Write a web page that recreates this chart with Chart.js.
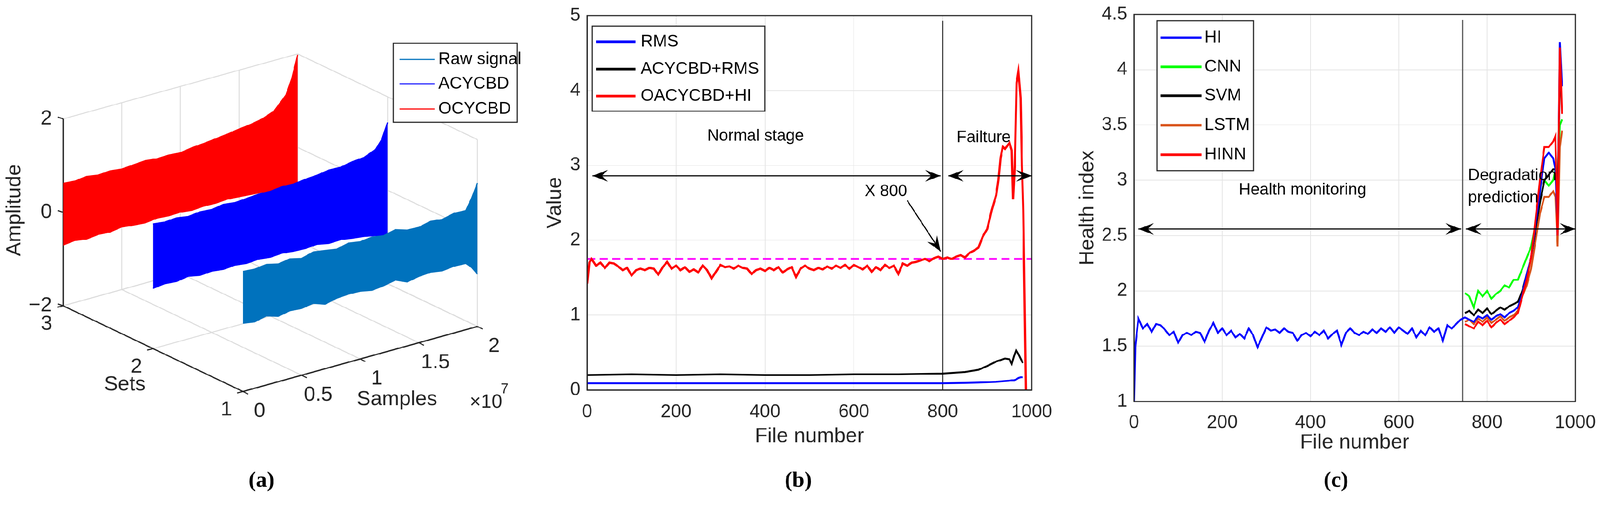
<!DOCTYPE html>
<html><head><meta charset="utf-8">
<script src="https://cdn.jsdelivr.net/npm/chart.js@4"></script>
<style>
html,body{margin:0;padding:0;background:#fff;overflow:hidden}
#wrap{position:absolute;left:0;top:0;width:4333px;height:1354px;transform-origin:0 0}
canvas{position:absolute;top:0}
</style></head><body>
<div id="wrap">
<canvas id="ca" width="1440" height="1354" style="left:0"></canvas>
<canvas id="cb" width="1450" height="1354" style="left:1400px"></canvas>
<canvas id="cc" width="1483" height="1354" style="left:2850px"></canvas>
</div>
<script>
// ---------------- DATA ----------------
// Panel (a): envelopes of the signals (amplitude) at sample positions (x1e7)
const sAxis = [0,0.1,0.2,0.3,0.4,0.5,0.6,0.7,0.8,0.9,1.0,1.1,1.2,1.3,1.4,1.5,1.6,1.7,1.8,1.9,1.95,2.0];
const rawUpper = [0.57,0.55,0.58,0.52,0.56,0.50,0.57,0.53,0.49,0.55,0.51,0.54,0.50,0.56,0.48,0.47,0.53,0.50,0.56,0.55,0.78,1.07];
const rawLower = [-0.54,-0.58,-0.52,-0.60,-0.55,-0.57,-0.53,-0.62,-0.56,-0.54,-0.55,-0.60,-0.57,-0.52,-0.63,-0.58,-0.56,-0.60,-0.57,-0.58,-0.70,-0.88];
const acyUpper = [0.67,0.64,0.66,0.62,0.65,0.63,0.67,0.64,0.66,0.68,0.67,0.70,0.69,0.72,0.74,0.78,0.77,0.82,0.84,0.95,1.12,1.45];
const acyLower = [-0.71,-0.68,-0.70,-0.66,-0.71,-0.69,-0.72,-0.70,-0.73,-0.71,-0.74,-0.72,-0.75,-0.76,-0.74,-0.79,-0.78,-0.82,-0.85,-0.90,-0.95,-1.00];
const ocyUpper = [0.62,0.60,0.63,0.59,0.61,0.58,0.60,0.62,0.59,0.60,0.58,0.62,0.64,0.67,0.70,0.74,0.77,0.82,0.92,1.19,1.51,1.98];
const ocyLower = [-0.70,-0.67,-0.71,-0.68,-0.70,-0.66,-0.69,-0.71,-0.68,-0.70,-0.69,-0.72,-0.70,-0.71,-0.69,-0.71,-0.73,-0.75,-0.78,-0.83,-0.84,-0.85];
const aSeriesNames = ["Raw signal","ACYCBD","OCYCBD"];
const aSets = [1,2,3];
const aSampleTicks = [0,0.5,1,1.5,2];
const aSampleTickLabels = ["0","0.5","1","1.5","2"];
const aSetTicks = [1,2,3];
const aAmpTicks = [-2,0,2];
const aAmpTickLabels = ["\u22122","0","2"];

// Panel (b)
const fileB = [0,5,10,20,30,40,50,60,70,80,90,100,110,120,130,140,150,160,170,180,190,200,210,220,230,240,250,260,270,280,290,300,310,320,330,340,350,360,370,380,390,400,410,420,430,440,450,460,470,480,490,500,510,520,530,540,550,560,570,580,590,600,610,620,630,640,650,660,670,680,690,700,710,720,730,740,750,760,770,780,790,800,810,820,830,840,850,860,870,880,890,900,910,920,925,930,935,940,945,950,955,958,962,966,970,975,978,981,984,987];
const hiB = [1.42,1.70,1.75,1.66,1.70,1.63,1.70,1.69,1.65,1.60,1.63,1.53,1.60,1.62,1.60,1.63,1.62,1.54,1.64,1.71,1.62,1.66,1.60,1.64,1.58,1.61,1.57,1.66,1.60,1.49,1.58,1.67,1.64,1.65,1.62,1.66,1.63,1.62,1.55,1.60,1.62,1.59,1.63,1.60,1.64,1.57,1.61,1.64,1.51,1.62,1.66,1.62,1.60,1.63,1.61,1.65,1.62,1.66,1.63,1.67,1.62,1.67,1.64,1.61,1.66,1.58,1.64,1.60,1.67,1.63,1.66,1.55,1.69,1.66,1.70,1.71,1.73,1.75,1.72,1.76,1.78,1.75,1.77,1.75,1.78,1.80,1.77,1.83,1.86,1.90,2.05,2.15,2.40,2.60,2.80,3.10,3.25,3.22,3.26,3.30,3.20,2.55,3.00,4.10,4.25,3.90,3.00,2.40,1.20,0.00];
const fileRms = [0,100,200,300,400,500,600,700,800,850,880,900,920,940,950,955,960,965,970,975,980];
const acyRms = [0.20,0.21,0.20,0.21,0.20,0.20,0.21,0.21,0.22,0.24,0.27,0.32,0.38,0.42,0.41,0.35,0.45,0.53,0.48,0.42,0.36];
const rms = [0.09,0.09,0.09,0.09,0.09,0.09,0.09,0.09,0.09,0.095,0.10,0.105,0.11,0.12,0.125,0.13,0.13,0.14,0.16,0.17,0.17];
const thresholdB = 1.75;
const splitB = 800;
const bLabels = ["RMS","ACYCBD+RMS","OACYCBD+HI"];

// Panel (c)
const fileHI = [0,3,10,20,30,40,50,60,70,80,90,100,110,120,130,140,150,160,170,180,190,200,210,220,230,240,250,260,270,280,290,300,310,320,330,340,350,360,370,380,390,400,410,420,430,440,450,460,470,480,490,500,510,520,530,540,550,560,570,580,590,600,610,620,630,640,650,660,670,680,690,700,710,720,730,740,750,760,770,780,790,800,810,820,830,840,850,860,870,880,890,900,910,920,930,940,950,955,960,965,970];
const hiC = [1.00,1.50,1.75,1.66,1.70,1.63,1.70,1.69,1.65,1.60,1.63,1.53,1.60,1.62,1.60,1.63,1.62,1.54,1.64,1.71,1.62,1.66,1.60,1.64,1.58,1.61,1.57,1.66,1.60,1.49,1.58,1.67,1.64,1.65,1.62,1.66,1.63,1.62,1.55,1.60,1.62,1.59,1.63,1.60,1.64,1.57,1.61,1.64,1.51,1.62,1.66,1.62,1.60,1.63,1.61,1.65,1.62,1.66,1.63,1.67,1.62,1.67,1.64,1.61,1.66,1.58,1.64,1.60,1.67,1.63,1.66,1.55,1.69,1.66,1.70,1.74,1.76,1.74,1.72,1.77,1.75,1.78,1.74,1.77,1.79,1.76,1.80,1.82,1.85,1.97,2.15,2.30,2.60,2.90,3.20,3.25,3.20,3.10,2.50,4.25,3.85];
const filePred = [750,760,770,780,790,800,810,820,830,840,850,860,870,880,890,900,910,920,930,940,950,955,960,965,970];
const cnn  = [1.98,1.95,1.85,2.00,1.95,2.00,1.93,1.97,2.00,2.05,2.03,2.10,2.10,2.20,2.30,2.40,2.60,2.80,3.00,2.95,3.00,3.10,3.05,3.50,3.55];
const svm  = [1.80,1.82,1.78,1.83,1.80,1.84,1.79,1.82,1.85,1.83,1.86,1.88,1.90,2.00,2.15,2.30,2.55,2.80,3.00,3.05,3.10,3.10,2.90,3.90,3.85];
const lstm = [1.72,1.74,1.70,1.75,1.72,1.76,1.71,1.74,1.77,1.73,1.76,1.78,1.82,1.95,2.05,2.20,2.45,2.70,2.85,2.85,2.90,2.85,2.40,3.30,3.45];
const hinn = [1.70,1.68,1.66,1.72,1.69,1.73,1.67,1.71,1.74,1.70,1.73,1.76,1.80,1.95,2.10,2.30,2.65,3.00,3.30,3.30,3.35,3.40,2.50,4.20,3.60];
const splitC = 745;
const cLabels = ["HI","CNN","SVM","LSTM","HINN"];

// ---------------- HELPERS ----------------
(function fit(){ const s = Math.min(1, window.innerWidth / 4333); document.getElementById('wrap').style.transform = 'scale(' + s + ')'; })();
const TXT = '#262626';
const FONT = '"Liberation Sans", Arial, sans-serif';
Chart.defaults.font.family = FONT;
Chart.defaults.color = TXT;
const zip = (xs, ys) => xs.map((x, i) => ({x, y: ys[i]}));

function arrow(ctx, x1, y1, x2, y2, both) {
  ctx.save();
  ctx.strokeStyle = '#000'; ctx.fillStyle = '#000'; ctx.lineWidth = 3;
  ctx.beginPath(); ctx.moveTo(x1, y1); ctx.lineTo(x2, y2); ctx.stroke();
  const head = (tx, ty, fx, fy) => {
    const a = Math.atan2(ty - fy, tx - fx), L = 42, Wd = 16;
    const bx = tx - L * Math.cos(a), by = ty - L * Math.sin(a);
    const nx = tx - L * 0.6 * Math.cos(a), ny = ty - L * 0.6 * Math.sin(a);
    ctx.beginPath();
    ctx.moveTo(tx, ty);
    ctx.lineTo(bx + Wd * Math.sin(a), by - Wd * Math.cos(a));
    ctx.lineTo(nx, ny);
    ctx.lineTo(bx - Wd * Math.sin(a), by + Wd * Math.cos(a));
    ctx.closePath(); ctx.fill();
  };
  head(x2, y2, x1, y1);
  if (both) head(x1, y1, x2, y2);
  ctx.restore();
}

function drawLegend(ctx, box, items, lineFrom, lineTo, textX, ys, fontSize, lw) {
  ctx.save();
  ctx.fillStyle = '#fff';
  ctx.fillRect(box[0], box[1], box[2] - box[0], box[3] - box[1]);
  ctx.strokeStyle = TXT; ctx.lineWidth = 3;
  ctx.strokeRect(box[0], box[1], box[2] - box[0], box[3] - box[1]);
  ctx.font = fontSize + 'px ' + FONT; ctx.textBaseline = 'middle'; ctx.textAlign = 'left';
  items.forEach((it, i) => {
    ctx.strokeStyle = it.color; ctx.lineWidth = lw;
    ctx.beginPath(); ctx.moveTo(lineFrom, ys[i]); ctx.lineTo(lineTo, ys[i]); ctx.stroke();
    ctx.fillStyle = '#000'; ctx.fillText(it.label, textX, ys[i]);
  });
  ctx.restore();
}

function caption(ctx, x, y, letter) {
  ctx.save();
  ctx.font = 'bold 60px "Liberation Serif", serif';
  ctx.fillStyle = '#000'; ctx.textAlign = 'center'; ctx.textBaseline = 'middle';
  ctx.fillText('(' + letter + ')', x, y);
  ctx.restore();
}

// ---------------- PANEL (a) ----------------
function proj(s, set, z) {
  return { x: 658 + 317.5 * s - 243.5 * (set - 1), y: 807 - 88 * s - 116 * (set - 1) - 126.5 * z };
}
function band(upper, lower, set) {
  return [sAxis.map((s, i) => proj(s, set, upper[i])), sAxis.map((s, i) => proj(s, set, lower[i]))];
}
const aColors = ['#0072BD', '#0000FF', '#FF0000'];
const aBands = [band(rawUpper, rawLower, aSets[0]), band(acyUpper, acyLower, aSets[1]), band(ocyUpper, ocyLower, aSets[2])];
const aDatasets = [];
aBands.forEach((b, k) => {
  aDatasets.push({label: aSeriesNames[k], data: b[0], borderColor: aColors[k], backgroundColor: aColors[k], borderWidth: 3, pointRadius: 0, fill: '+1', order: k + 1, tension: 0});
  aDatasets.push({label: aSeriesNames[k] + ' low', data: b[1], borderColor: aColors[k], backgroundColor: aColors[k], borderWidth: 3, pointRadius: 0, fill: false, order: k + 1, tension: 0});
});

const box3d = {
  id: 'box3d',
  beforeDatasetsDraw(chart) {
    const ctx = chart.ctx, xs = chart.scales.x, ys = chart.scales.y;
    const P = (s, set, z) => { const p = proj(s, set, z); return [xs.getPixelForValue(p.x), ys.getPixelForValue(p.y)]; };
    const seg = (a, b) => { ctx.beginPath(); ctx.moveTo(a[0], a[1]); ctx.lineTo(b[0], b[1]); ctx.stroke(); };
    ctx.save();
    ctx.strokeStyle = '#dcdcdc'; ctx.lineWidth = 2.5;
    aSampleTicks.forEach(s => { seg(P(s, 3, -2), P(s, 3, 2)); seg(P(s, 1, -2), P(s, 3, -2)); });
    aAmpTicks.forEach(z => { seg(P(0, 3, z), P(2, 3, z)); seg(P(2, 1, z), P(2, 3, z)); });
    aSetTicks.forEach(st => { seg(P(2, st, -2), P(2, st, 2)); seg(P(0, st, -2), P(2, st, -2)); });
    ctx.strokeStyle = TXT; ctx.lineWidth = 3.5;
    seg(P(0, 3, -2), P(0, 3, 2));
    seg(P(0, 3, -2), P(0, 1, -2));
    seg(P(0, 1, -2), P(2, 1, -2));
    ctx.lineWidth = 3;
    aAmpTicks.forEach(z => { const p = P(0, 3, z); seg(p, [p[0] - 14, p[1] - 5]); });
    aSetTicks.forEach(st => { const p = P(0, st, -2); seg(p, [p[0] - 16, p[1] + 4]); });
    aSampleTicks.forEach(s => { const p = P(s, 1, -2); seg(p, [p[0] + 14, p[1] + 7]); });
    ctx.restore();
  },
  afterDraw(chart) {
    const ctx = chart.ctx, xs = chart.scales.x, ys = chart.scales.y;
    const P = (s, set, z) => { const p = proj(s, set, z); return [xs.getPixelForValue(p.x), ys.getPixelForValue(p.y)]; };
    ctx.save();
    ctx.fillStyle = TXT; ctx.font = '56px ' + FONT; ctx.textBaseline = 'middle';
    ctx.textAlign = 'right';
    aAmpTicks.forEach((z, i) => { const p = P(0, 3, z); ctx.fillText(aAmpTickLabels[i], p[0] - 30, p[1]); });
    ctx.textAlign = 'center';
    aSetTicks.forEach(st => { const p = P(0, st, -2); ctx.fillText(String(st), p[0] - 45, p[1] + 50); });
    aSampleTicks.forEach((s, i) => { const p = P(s, 1, -2); ctx.fillText(aSampleTickLabels[i], p[0] + 45, p[1] + 54); });
    ctx.fillText('Sets', 338, 1042);
    ctx.fillText('Samples', 1075, 1082);
    ctx.font = '52px ' + FONT; ctx.textAlign = 'left';
    ctx.fillText('\u00d710', 1272, 1090);
    ctx.font = '38px ' + FONT;
    ctx.fillText('7', 1356, 1055);
    ctx.save(); ctx.translate(40, 569); ctx.rotate(-Math.PI / 2);
    ctx.font = '56px ' + FONT; ctx.textAlign = 'center';
    ctx.fillText('Amplitude', 0, 0); ctx.restore();
    ctx.restore();
    drawLegend(ctx, [1065, 117, 1401, 331], aSeriesNames.map((l, i) => ({label: l, color: aColors[i]})), 1082, 1177, 1187, [161, 227, 295], 46, 3);
    caption(ctx, 708, 1302, 'a');
  }
};

new Chart(document.getElementById('ca'), {
  type: 'line',
  data: {datasets: aDatasets},
  options: {
    responsive: false, animation: false, devicePixelRatio: 1,
    layout: {padding: 0},
    plugins: {legend: {display: false}, tooltip: {enabled: false}},
    scales: {
      x: {type: 'linear', min: 0, max: 1440, display: false},
      y: {type: 'linear', min: 0, max: 1354, reverse: true, display: false}
    }
  },
  plugins: [box3d]
});

// ---------------- PANELS (b), (c) ----------------
function axisOpts(min, max, step, o) {
  return {
    x: {
      type: 'linear', min: 0, max: 1000,
      ticks: {stepSize: 200, font: {size: 50}, color: TXT, padding: o.xPad, maxRotation: 0, autoSkip: false, callback: v => String(v)},
      grid: {color: '#e4e4e4', lineWidth: 2, drawTicks: false},
      border: {color: TXT, width: 3},
      title: {display: true, text: 'File number', font: {size: 56}, color: TXT, padding: 0},
      afterFit(s) { s.height = o.xH; s.paddingLeft = 0; s.paddingRight = 0; }
    },
    y: {
      type: 'linear', min, max,
      ticks: {stepSize: step, font: {size: 50}, color: TXT, padding: 18, autoSkip: false, callback: v => String(v)},
      grid: {color: '#e4e4e4', lineWidth: 2, drawTicks: false},
      border: {color: TXT, width: 3},
      title: {display: true, text: o.yTitle, font: {size: 56}, color: TXT, padding: 0},
      afterFit(s) { s.width = o.yW; s.paddingTop = 0; s.paddingBottom = 0; }
    }
  };
}
function frame(ctx, a) {
  ctx.save(); ctx.strokeStyle = TXT; ctx.lineWidth = 3;
  ctx.strokeRect(a.left, a.top, a.right - a.left, a.bottom - a.top);
  ctx.restore();
}
function text(ctx, str, x, y, size, align) {
  ctx.save(); ctx.fillStyle = '#000'; ctx.font = size + 'px ' + FONT;
  ctx.textAlign = align || 'center'; ctx.textBaseline = 'middle';
  ctx.fillText(str, x, y); ctx.restore();
}

const lineDs = (label, data, color, w) => ({label, data, borderColor: color, backgroundColor: color, borderWidth: w || 5, pointRadius: 0, tension: 0, fill: false});

// (b)
const bColors = ['#0000FF', '#000000', '#FF0000'];
const bPlugin = {
  id: 'bDeco',
  afterDraw(chart) {
    const ctx = chart.ctx, x = chart.scales.x, y = chart.scales.y;
    frame(ctx, chart.chartArea);
    text(ctx, 'Normal stage', x.getPixelForValue(379), y.getPixelForValue(3.39), 44);
    text(ctx, 'Failture', x.getPixelForValue(892), y.getPixelForValue(3.37), 44);
    text(ctx, 'X 800', x.getPixelForValue(672), y.getPixelForValue(2.65), 44);
    arrow(ctx, x.getPixelForValue(12), y.getPixelForValue(2.86), x.getPixelForValue(795), y.getPixelForValue(2.86), true);
    arrow(ctx, x.getPixelForValue(812), y.getPixelForValue(2.86), x.getPixelForValue(1000), y.getPixelForValue(2.86), true);
    arrow(ctx, x.getPixelForValue(720), y.getPixelForValue(2.53), x.getPixelForValue(795), y.getPixelForValue(1.85), false);
    drawLegend(ctx, [204, 71, 671, 301], bLabels.map((l, i) => ({label: l, color: bColors[i]})), 214, 321, 335, [113, 187, 260], 46, 7);
    caption(ctx, 762, 1302, 'b');
  }
};
new Chart(document.getElementById('cb'), {
  type: 'line',
  data: {datasets: [
    lineDs(bLabels[0], zip(fileRms, rms), bColors[0]),
    lineDs(bLabels[1], zip(fileRms, acyRms), bColors[1]),
    lineDs(bLabels[2], zip(fileB, hiB), bColors[2], 6),
    {label: 'threshold', data: [{x: 0, y: thresholdB}, {x: 1000, y: thresholdB}], borderColor: '#FF00FF', borderWidth: 5, borderDash: [22, 12], pointRadius: 0, fill: false},
    {label: 'split', data: [{x: splitB, y: 0}, {x: splitB, y: 4.93}], borderColor: '#222', borderWidth: 2.5, pointRadius: 0, fill: false}
  ]},
  options: {
    responsive: false, animation: false, devicePixelRatio: 1,
    layout: {padding: {left: 70, right: 56, top: 42, bottom: 139}},
    plugins: {legend: {display: false}, tooltip: {enabled: false}},
    scales: axisOpts(0, 5, 1, {xPad: 30, xH: 159, yW: 120, yTitle: 'Value'})
  },
  plugins: [bPlugin]
});

// (c)
const cColors = ['#0000FF', '#00FF00', '#000000', '#D95319', '#FF0000'];
const cPlugin = {
  id: 'cDeco',
  afterDraw(chart) {
    const ctx = chart.ctx, x = chart.scales.x, y = chart.scales.y;
    frame(ctx, chart.chartArea);
    text(ctx, 'Health monitoring', x.getPixelForValue(382), y.getPixelForValue(2.91), 44);
    text(ctx, 'Degradation', x.getPixelForValue(757), y.getPixelForValue(3.04), 44, 'left');
    text(ctx, 'prediction', x.getPixelForValue(757), y.getPixelForValue(2.84), 44, 'left');
    arrow(ctx, x.getPixelForValue(10), y.getPixelForValue(2.56), x.getPixelForValue(741), y.getPixelForValue(2.56), true);
    arrow(ctx, x.getPixelForValue(752), y.getPixelForValue(2.56), x.getPixelForValue(1000), y.getPixelForValue(2.56), true);
    drawLegend(ctx, [283, 56, 545, 462], cLabels.map((l, i) => ({label: l, color: cColors[i]})), 293, 404, 412, [102, 181, 259, 339, 419], 46, 7);
    caption(ctx, 768, 1302, 'c');
  }
};
new Chart(document.getElementById('cc'), {
  type: 'line',
  data: {datasets: [
    lineDs(cLabels[4], zip(filePred, hinn), cColors[4]),
    lineDs(cLabels[0], zip(fileHI, hiC), cColors[0]),
    lineDs(cLabels[3], zip(filePred, lstm), cColors[3]),
    lineDs(cLabels[2], zip(filePred, svm), cColors[2]),
    lineDs(cLabels[1], zip(filePred, cnn), cColors[1]),
    {label: 'split', data: [{x: splitC, y: 1}, {x: splitC, y: 4.45}], borderColor: '#555', borderWidth: 3, pointRadius: 0, fill: false}
  ]},
  options: {
    responsive: false, animation: false, devicePixelRatio: 1,
    layout: {padding: {left: 62, right: 67, top: 39, bottom: 122}},
    plugins: {legend: {display: false}, tooltip: {enabled: false}},
    scales: axisOpts(1, 4.5, 0.5, {xPad: 28, xH: 145, yW: 159, yTitle: 'Health index'})
  },
  plugins: [cPlugin]
});
</script>
</body></html>
